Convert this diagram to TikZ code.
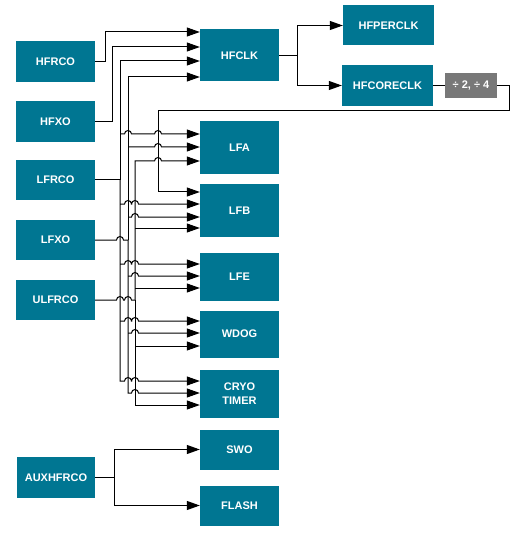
\documentclass[tikz,border=0pt]{standalone}
\usepackage{fontspec}
\setmainfont{Liberation Sans}
\usetikzlibrary{arrows.meta}
\definecolor{boxteal}{RGB}{0,118,146}
\definecolor{divgray}{RGB}{120,120,120}
\newcommand\hop[2]{-- (#1-3.5,#2) arc[start angle=180,end angle=0,radius=3.5bp]}
\begin{document}
\begin{tikzpicture}[x=1bp,y=-1bp,
  box/.style={fill=boxteal,text=white,font=\bfseries\fontsize{11bp}{13.5bp}\selectfont,
    align=center,inner sep=0pt,minimum width=79bp,minimum height=41bp},
  wire/.style={line width=1bp,black},
  arr/.style={wire,-{Triangle[length=13bp,width=9bp]}}]
\useasboundingbox (0,0) rectangle (518,533);
\fill[white] (0,0) rectangle (518,533);
% boxes
\node[box] (hfrco) at (55.5,61.5) {HFRCO};
\node[box] (hfxo) at (55.5,121.5) {HFXO};
\node[box,minimum height=40bp] (lfrco) at (55.5,180) {LFRCO};
\node[box,minimum height=40bp] (lfxo) at (55.5,240) {LFXO};
\node[box,minimum height=40bp] (ulfrco) at (55.5,300) {ULFRCO};
\node[box,minimum width=78bp] (auxhfrco) at (56,477.5) {AUXHFRCO};
\node[box,minimum height=52bp] (hfclk) at (239.5,55.5) {HFCLK};
\node[box,minimum width=91bp,minimum height=40bp] (hfperclk) at (388.5,25.5) {HFPERCLK};
\node[box,minimum width=91bp] (hfcoreclk) at (387.5,85.5) {HFCORECLK};
\node[box,fill=divgray,minimum width=52bp,minimum height=25bp] (div) at (471,85.5) {÷ 2, ÷ 4};
\node[box,minimum height=53bp] (lfa) at (239.5,148) {LFA};
\node[box,minimum height=52bp] (lfb) at (239.5,210.5) {LFB};
\node[box,minimum height=48bp] (lfe) at (239.5,276.5) {LFE};
\node[box,minimum height=47bp] (wdog) at (239.5,334) {WDOG};
\node[box,minimum height=48bp] (cryo) at (239.5,393.5) {CRYO\\TIMER};
\node[box,minimum height=40bp] (swo) at (239.5,449.5) {SWO};
\node[box,minimum height=40bp] (flash) at (239.5,505.5) {FLASH};
% HFCLK inputs
\draw[arr] (hfrco.east) -| (105,32) -- (hfclk.west |- 0,32);
\draw[arr] (hfxo.east) -| (112,47) -- (hfclk.west |- 0,47);
% LFRCO bus x=120
\draw[arr] (lfrco.east) -| (120,61) -- (hfclk.west |- 0,61);
\draw[arr] (lfrco.east -| 120,0) -- (120,381) \hop{128}{381} \hop{135}{381} -- (cryo.west |- 0,381);
\draw[arr] (120,134) \hop{128}{134} \hop{158}{134} -- (lfa.west |- 0,134);
\draw[arr] (120,204) \hop{128}{204} \hop{135}{204} -- (lfb.west |- 0,204);
\draw[arr] (120,264) \hop{128}{264} \hop{135}{264} -- (lfe.west |- 0,264);
\draw[arr] (120,321) \hop{128}{321} \hop{135}{321} -- (wdog.west |- 0,321);
% LFXO bus x=128
\draw[wire] (lfxo.east) \hop{120}{240} -- (128,240);
\draw[arr] (128,240) |- (hfclk.west |- 0,77);
\draw[arr] (128,240) -- (128,393) \hop{135}{393} -- (cryo.west |- 0,393);
\draw[arr] (128,147) \hop{158}{147} -- (lfa.west |- 0,147);
\draw[arr] (128,217) \hop{135}{217} -- (lfb.west |- 0,217);
\draw[arr] (128,276) \hop{135}{276} -- (lfe.west |- 0,276);
\draw[arr] (128,333) \hop{135}{333} -- (wdog.west |- 0,333);
% ULFRCO bus x=135
\draw[wire] (ulfrco.east) \hop{120}{300} \hop{128}{300} -- (135,300);
\draw[arr] (135,300) -- (135,161) \hop{158}{161} -- (lfa.west |- 0,161);
\draw[arr] (135,300) -- (135,405) -- (cryo.west |- 0,405);
\draw[arr] (135,228) -- (lfb.west |- 0,228);
\draw[arr] (135,288) -- (lfe.west |- 0,288);
\draw[arr] (135,346) -- (wdog.west |- 0,346);
% HFCLK outputs and divider feedback
\draw[arr] (hfclk.east) -- (297,55.5) |- (hfperclk.west);
\draw[arr] (297,55.5) |- (hfcoreclk.west);
\draw[wire] (hfcoreclk.east) -- (div.west);
\draw[arr] (div.east) -| (509,111) -| (158,192) -- (lfb.west |- 0,192);
% AUXHFRCO
\draw[arr] (auxhfrco.east) -- (114,477.5) |- (swo.west);
\draw[arr] (114,477.5) |- (flash.west);
\end{tikzpicture}
\end{document}
